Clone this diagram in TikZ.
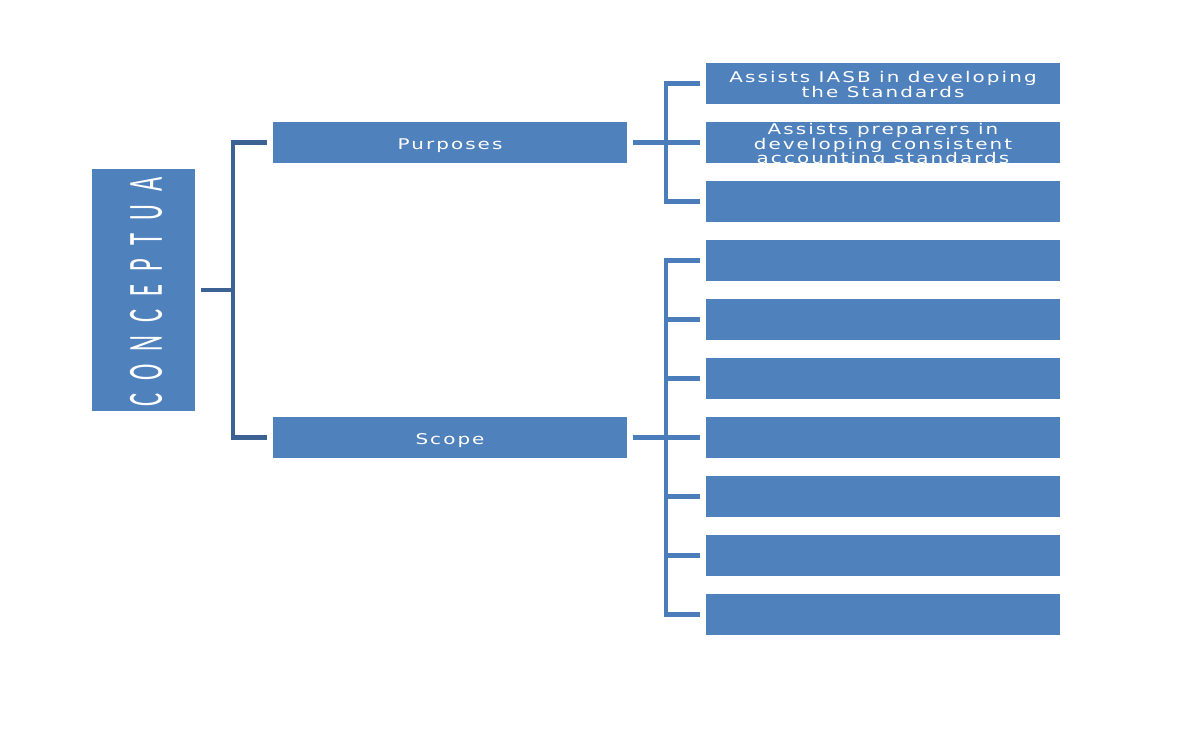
\documentclass[tikz,border=0pt]{standalone}
\usepackage{fontspec}
\usetikzlibrary{calc}
\newfontfamily\boxfont[FakeStretch=1.35,LetterSpace=14]{DejaVu Sans}
\newfontfamily\vfont[LetterSpace=30]{Carlito}
\definecolor{boxblue}{RGB}{79,129,189}
\definecolor{darkline}{RGB}{60,98,148}
\definecolor{lightline}{RGB}{74,125,185}
\tikzset{
  bx/.style={fill=boxblue, draw=none, inner sep=0pt, minimum width=8.85cm, minimum height=1.025cm},
  btxt/.style={text=white, font=\boxfont\fontsize{10.5}{10.3}\selectfont, align=center},
  lconn/.style={draw=darkline, line width=3.4pt},
  rconn/.style={draw=lightline, line width=3.4pt},
}
\begin{document}
\begin{tikzpicture}[x=0.025cm,y=-0.025cm]
\useasboundingbox (0,0) rectangle (1200,729);
% root
\node[fill=boxblue, inner sep=0pt, minimum width=2.575cm, minimum height=6.05cm] (concept) at (143.5,290) {};
\node[rotate=90, text=white, inner sep=0pt] (ctext) at (146,292) {\scalebox{0.5}[1]{\vfont\fontsize{35}{35}\selectfont C O N C E P T U A}};
% level 1
\node[bx, label={[btxt, yshift=-2pt]center:Purposes}] (purp) at (450,142.5) {};
\node[bx, label={[btxt, yshift=-2pt]center:Scope}] (scope) at (450,437.5) {};
% purposes children
\node[bx, label={[btxt, yshift=-0.8pt]center:Assists IASB in developing\\the Standards}] (p1) at (883,83.5) {};
\node[bx, label={[btxt, yshift=-1.8pt]center:Assists preparers in\\developing consistent\\accounting standards}] (p2) at (883,142.5) {};
\node[bx] (p3) at (883,201.5) {};
% scope children
\node[bx] (s1) at (883,260.5) {};
\node[bx] (s2) at (883,319.5) {};
\node[bx] (s3) at (883,378.5) {};
\node[bx] (s4) at (883,437.5) {};
\node[bx] (s5) at (883,496.5) {};
\node[bx] (s6) at (883,555.5) {};
\node[bx] (s7) at (883,614.5) {};
% spine coordinates
\coordinate (sp0) at (233,290);
\coordinate (sp1) at (666,142.5);
\coordinate (sp2) at (666,437.5);
% left bracket
\draw[lconn] ($(concept.east)+(6,0)$) -- (sp0);
\draw[lconn] ($(purp.west)+(-6,0)$) -| (sp0) |- ($(scope.west)+(-6,0)$);
% purposes bracket
\draw[rconn] ($(purp.east)+(6,0)$) -- ($(p2.west)+(-6,0)$);
\draw[rconn] ($(p1.west)+(-6,0)$) -| (sp1) |- ($(p3.west)+(-6,0)$);
% scope bracket
\draw[rconn] ($(scope.east)+(6,0)$) -- ($(s4.west)+(-6,0)$);
\draw[rconn] ($(s1.west)+(-6,0)$) -| (sp2) |- ($(s7.west)+(-6,0)$);
\foreach \n in {s2,s3,s5,s6}{
  \draw[rconn] ($(\n.west)+(-6,0)$) -- ($(\n.west)+(-40,0)$);
}
\end{tikzpicture}
\end{document}
